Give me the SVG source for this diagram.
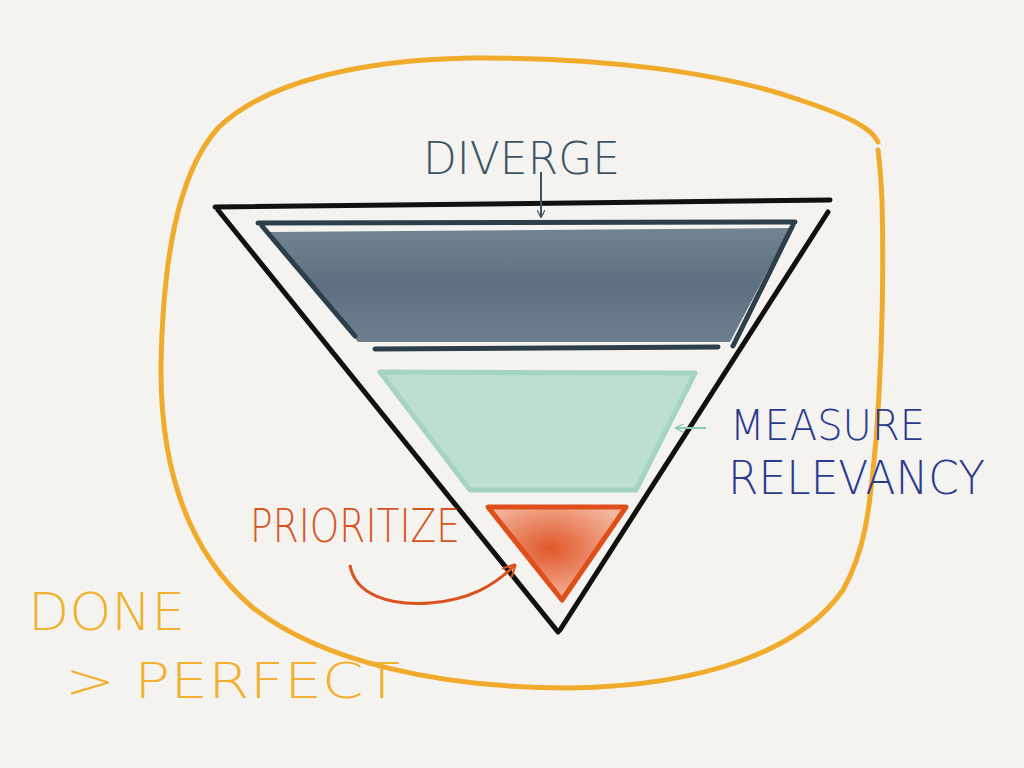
<svg xmlns="http://www.w3.org/2000/svg" width="1024" height="768" viewBox="0 0 1024 768">
<defs>
<style>
.hand{font-family:"DejaVu Sans","Liberation Sans",sans-serif;font-weight:200}
.loop{fill:none;stroke:#f0ab2c;stroke-width:5;stroke-linecap:round;stroke-linejoin:round}
</style>
<linearGradient id="greyFill" x1="0" y1="0" x2="0" y2="1">
<stop offset="0" stop-color="#6b7e8a"/>
<stop offset="0.5" stop-color="#56697a"/>
<stop offset="1" stop-color="#66798a"/>
</linearGradient>
<radialGradient id="redFill" cx="0.45" cy="0.45" r="0.6">
<stop offset="0" stop-color="#e0572a"/>
<stop offset="1" stop-color="#f4b8a0"/>
</radialGradient>
<marker id="arrDark" viewBox="0 0 10 10" refX="9" refY="5" markerWidth="8" markerHeight="8" orient="auto" markerUnits="userSpaceOnUse">
<path d="M0,0 L10,5 L0,10" fill="none" stroke="#3c5566" stroke-width="1.5"/>
</marker>
<marker id="arrGreen" viewBox="0 0 10 10" refX="9" refY="5" markerWidth="9" markerHeight="9" orient="auto" markerUnits="userSpaceOnUse">
<path d="M0,0 L10,5 L0,10" fill="none" stroke="#8ccbb0" stroke-width="1.5"/>
</marker>
<marker id="arrRed" viewBox="0 0 10 10" refX="9" refY="5" markerWidth="14" markerHeight="14" orient="auto" markerUnits="userSpaceOnUse">
<path d="M0,0 L10,5 L0,10" fill="none" stroke="#d9531e" stroke-width="1.5"/>
</marker>
</defs>
<rect width="1024" height="768" fill="#f5f3f0"/>

<g id="done-loop">
<path class="loop" d="M878,142 C872,128 848,116 800,100 C720,72 600,57 470,58 C360,60 265,82 218,128 C176,175 163,265 161,365 C160,465 186,550 252,607 C322,662 440,688 570,688 C700,686 800,652 843,590 C868,545 870,500 876,440 C882,360 884,280 882,200 C881,180 880,165 878,150"/>
</g>

<g id="funnel">
<path d="M215,207 L830,200 M218,210 L558,632 M828,212 L560,630" fill="none" stroke="#111" stroke-width="5" stroke-linecap="round"/>
</g>

<g id="diverge-band">
<path d="M268,232 L790,228 L730,342 L358,342 Z" fill="url(#greyFill)" opacity="0.95"/>
<path d="M258,223 L795,222 M262,226 L355,336 M793,225 L733,346 M375,349 L718,347" fill="none" stroke="#2c3f4b" stroke-width="5" stroke-linecap="round"/>
</g>

<g id="measure-band">
<path d="M380,372 L695,373 L636,490 L470,490 Z" fill="#bde0ce" stroke="#a5d5be" stroke-width="5" stroke-linejoin="round"/>
</g>

<g id="prioritize-band">
<path d="M490,508 L624,508 L562,598 Z" fill="url(#redFill)"/>
<path d="M488,507 L626,507 L562,600 Z" fill="none" stroke="#de4f1c" stroke-width="5" stroke-linejoin="round"/>
</g>

<g id="connectors">
<path d="M541,172 L541,217" fill="none" stroke="#3c5566" stroke-width="2" marker-end="url(#arrDark)"/>
<path d="M706,428 L676,428" fill="none" stroke="#8ccbb0" stroke-width="2" marker-end="url(#arrGreen)"/>
<path d="M350,565 C355,595 390,606 430,603 C470,600 495,585 515,565" fill="none" stroke="#d9531e" stroke-width="3" marker-end="url(#arrRed)"/>
</g>

<g id="label-diverge">
<text class="hand" x="423" y="174" font-size="44" fill="#3c5566" textLength="197" lengthAdjust="spacingAndGlyphs">DIVERGE</text>
</g>
<g id="label-measure">
<text class="hand" x="730" y="440" font-size="42" fill="#2a3c8f" textLength="195" lengthAdjust="spacingAndGlyphs">MEASURE</text>
<text class="hand" x="728" y="494" font-size="46" fill="#2a3c8f" textLength="257" lengthAdjust="spacingAndGlyphs">RELEVANCY</text>
</g>
<g id="label-prioritize">
<text class="hand" x="250" y="542" font-size="46" fill="#d9531e" textLength="210" lengthAdjust="spacingAndGlyphs">PRIORITIZE</text>
</g>
<g id="label-done">
<text class="hand" x="28" y="630" font-size="52" fill="#f0b030" textLength="157" lengthAdjust="spacingAndGlyphs">DONE</text>
<text class="hand" x="65" y="698" font-size="50" fill="#f0b030" textLength="335" lengthAdjust="spacingAndGlyphs">&gt; PERFECT</text>
</g>
</svg>
